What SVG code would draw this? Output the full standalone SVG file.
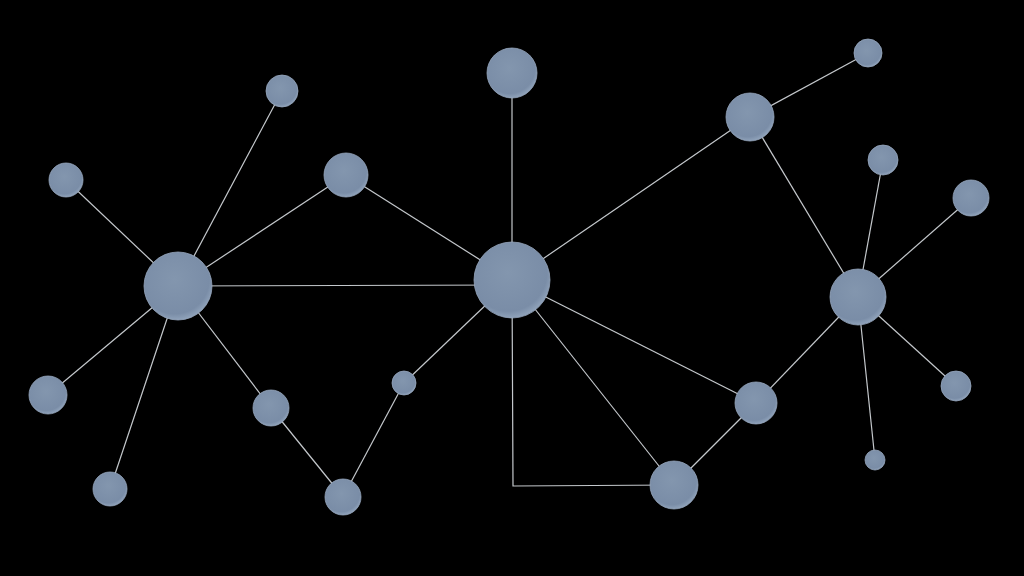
<svg xmlns="http://www.w3.org/2000/svg" width="1024" height="576" viewBox="0 0 1024 576">
<defs>
<radialGradient id="g" cx="0.45" cy="0.4" r="0.6">
<stop offset="0" stop-color="#8396ae"/>
<stop offset="0.85" stop-color="#7a8da7"/>
<stop offset="1" stop-color="#8fa2ba"/>
</radialGradient>
</defs>
<style>
.e{stroke:#c4c8cc;stroke-width:1.2;fill:none}
.n{fill:url(#g);stroke:#95a6bc;stroke-width:0.8}
</style>
<rect width="1024" height="576" fill="#000"/>
<g id="connectors">
<line class="e" x1="178" y1="286" x2="66" y2="180"/>
<line class="e" x1="178" y1="286" x2="282" y2="91"/>
<line class="e" x1="178" y1="286" x2="346" y2="175"/>
<line class="e" x1="178" y1="286" x2="512" y2="285"/>
<line class="e" x1="178" y1="286" x2="48" y2="395"/>
<line class="e" x1="178" y1="286" x2="110" y2="489"/>
<line class="e" x1="178" y1="286" x2="271" y2="408"/>
<line class="e" x1="271" y1="408" x2="343" y2="497"/>
<line class="e" x1="343" y1="497" x2="404" y2="383"/>
<line class="e" x1="404" y1="383" x2="512" y2="280"/>
<line class="e" x1="346" y1="175" x2="512" y2="280"/>
<line class="e" x1="512" y1="73" x2="512" y2="280"/>
<line class="e" x1="512" y1="280" x2="750" y2="117"/>
<line class="e" x1="750" y1="117" x2="868" y2="53"/>
<line class="e" x1="750" y1="117" x2="858" y2="297"/>
<line class="e" x1="858" y1="297" x2="883" y2="160"/>
<line class="e" x1="858" y1="297" x2="971" y2="198"/>
<line class="e" x1="858" y1="297" x2="956" y2="386"/>
<line class="e" x1="858" y1="297" x2="875" y2="460"/>
<line class="e" x1="858" y1="297" x2="756" y2="403"/>
<line class="e" x1="512" y1="280" x2="756" y2="403"/>
<line class="e" x1="512" y1="280" x2="674" y2="485"/>
<line class="e" x1="756" y1="403" x2="674" y2="485"/>
<polyline class="e" points="512,280 513,486 674,485"/>
</g>
<g id="n1"><circle class="n" cx="178" cy="286" r="34"/></g>
<g id="n2"><circle class="n" cx="512" cy="280" r="38"/></g>
<g id="n3"><circle class="n" cx="858" cy="297" r="28"/></g>
<g id="n4"><circle class="n" cx="512" cy="73" r="25"/></g>
<g id="n5"><circle class="n" cx="282" cy="91" r="16"/></g>
<g id="n6"><circle class="n" cx="66" cy="180" r="17"/></g>
<g id="n7"><circle class="n" cx="346" cy="175" r="22"/></g>
<g id="n8"><circle class="n" cx="48" cy="395" r="19"/></g>
<g id="n9"><circle class="n" cx="110" cy="489" r="17"/></g>
<g id="n10"><circle class="n" cx="271" cy="408" r="18"/></g>
<g id="n11"><circle class="n" cx="343" cy="497" r="18"/></g>
<g id="n12"><circle class="n" cx="404" cy="383" r="12"/></g>
<g id="n13"><circle class="n" cx="750" cy="117" r="24"/></g>
<g id="n14"><circle class="n" cx="868" cy="53" r="14"/></g>
<g id="n15"><circle class="n" cx="883" cy="160" r="15"/></g>
<g id="n16"><circle class="n" cx="971" cy="198" r="18"/></g>
<g id="n17"><circle class="n" cx="956" cy="386" r="15"/></g>
<g id="n18"><circle class="n" cx="875" cy="460" r="10"/></g>
<g id="n19"><circle class="n" cx="756" cy="403" r="21"/></g>
<g id="n20"><circle class="n" cx="674" cy="485" r="24"/></g>
</svg>
